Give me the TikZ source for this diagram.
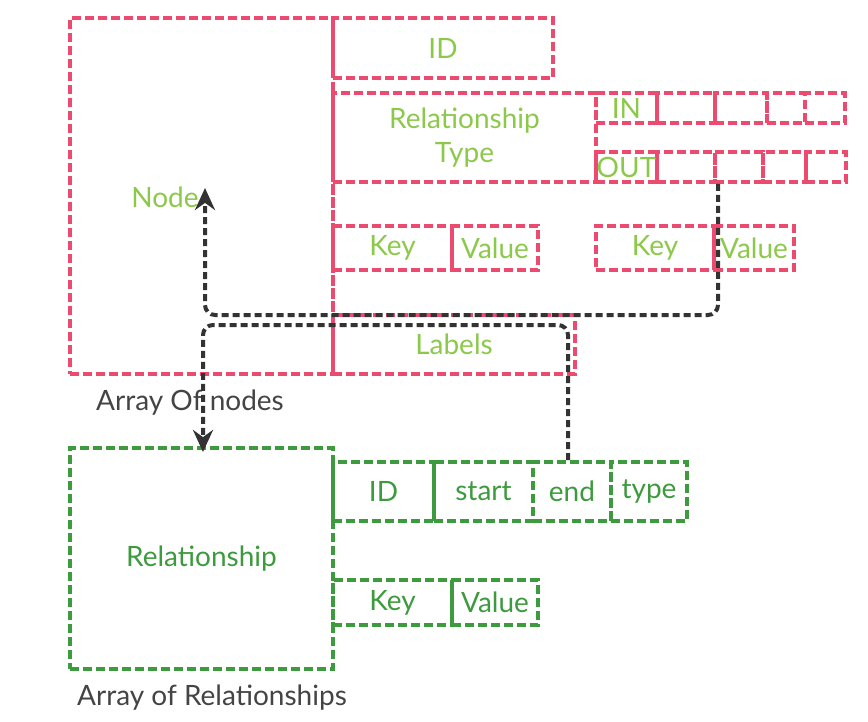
\documentclass[tikz,border=0pt]{standalone}
\usepackage{fontspec}
\setmainfont{Lato}
\usetikzlibrary{arrows.meta}
\definecolor{pinkline}{HTML}{EC4A6E}
\definecolor{lightgreen}{HTML}{8CC94A}
\definecolor{darkgreen}{HTML}{3E9A3E}
\definecolor{labelgray}{HTML}{444444}
% cell: name, x1, y1, x2, y2, text
\newcommand{\cell}[7][]{%
  \node[box,#1,minimum width={(#5-#3)*1pt},minimum height={(#6-#4)*1pt}]
    (#2) at ({(#3+#5)/2},{(#4+#6)/2}) {#7};}
\begin{document}
\begin{tikzpicture}[x=1pt,y=-1pt,
  box/.style={draw=pinkline,line width=4pt,dash pattern=on 9pt off 4pt,
    text=lightgreen,font=\fontsize{28}{34}\selectfont,inner sep=0pt,align=center},
  gbox/.style={draw=darkgreen,text=darkgreen},
  link/.style={draw=black!80,line width=4pt,dash pattern=on 7pt off 4pt,rounded corners=10pt},
  tip/.style={-{Stealth[length=22pt,width=20pt]}},
  caption/.style={text=labelgray,font=\fontsize{28}{34}\selectfont}]
  \useasboundingbox (0,0) rectangle (868,722);

  % array of nodes
  \cell{node}{70}{18}{333}{374}{}
  \node[text=lightgreen,font=\fontsize{28}{34}\selectfont] (nodetext) at (165,197) {Node};
  \cell{id}{333}{18}{553}{78}{ID}
  \draw[pinkline,line width=4pt,dash pattern=on 9pt off 4pt] (333,93) -- (333,374);
  \cell{rtype}{333}{93}{596}{182}{Relationship\\Type}
  \cell{in}{596}{93}{657}{123}{IN}
  \cell{i2}{657}{93}{715}{123}{}
  \cell{i3}{715}{93}{767}{123}{}
  \cell{i4}{767}{93}{805}{123}{}
  \cell{i5}{805}{93}{845}{123}{}
  \cell{out}{596}{152}{657}{182}{OUT}
  \cell{o2}{657}{152}{715}{182}{}
  \cell{o3}{715}{152}{763}{182}{}
  \cell{o4}{763}{152}{806}{182}{}
  \cell{o5}{806}{152}{846}{182}{}
  \cell{key}{333}{226}{452}{270}{Key}
  \cell{value}{452}{226}{538}{270}{Value}
  \cell{keyb}{596}{226}{714}{270}{Key}
  \cell{valueb}{714}{226}{794}{270}{Value}
  \cell{labels}{333}{315}{575}{374}{Labels}
  \node[caption] (arrnodes) at (190,403) {Array Of nodes};

  % array of relationships
  \cell[gbox]{rel}{70}{448}{333}{669}{Relationship}
  \cell[gbox]{rid}{333}{462}{434}{521}{ID}
  \cell[gbox]{start}{434}{462}{533}{521}{start}
  \cell[gbox]{end}{533}{462}{611}{521}{end}
  \cell[gbox]{type}{611}{462}{687}{521}{type}
  \cell[gbox]{rkey}{333}{580}{452}{625}{Key}
  \cell[gbox]{rvalue}{452}{580}{538}{625}{Value}
  \node[caption] (arrrels) at (212,698) {Array of Relationships};

  % links
  \coordinate (nodein) at (205,188);
  \coordinate (relin) at (203,452);
  \draw[link,tip] ([xshift=5pt]o3.south west) |- (205,315) -- (nodein);
  \draw[link,tip] ([xshift=37pt]end.north west) |- (203,325) -- (relin);
\end{tikzpicture}
\end{document}
